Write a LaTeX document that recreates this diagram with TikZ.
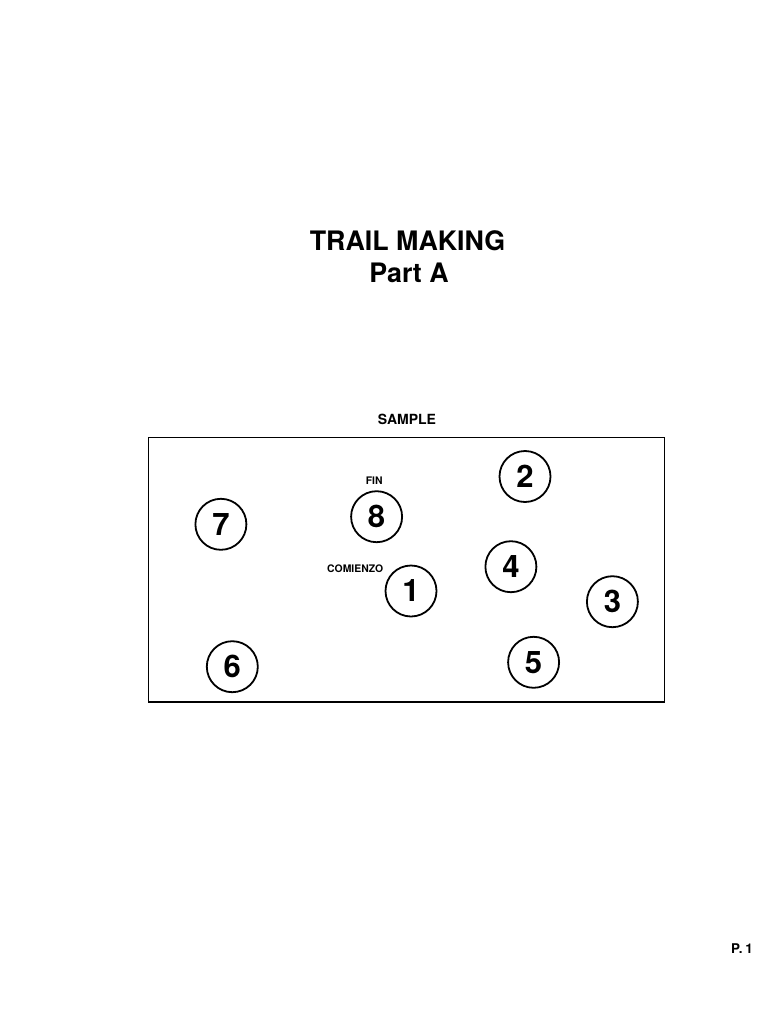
\documentclass[tikz,border=0pt]{standalone}
\usepackage{fontspec}
\setmainfont{TeX Gyre Heros}
\begin{document}
\begin{tikzpicture}[x=1pt,y=-1pt,
  dot/.style={circle,draw,line width=1.8pt,minimum size=51pt,inner sep=0pt,font=\fontsize{31}{31}\selectfont\bfseries},
  lab/.style={font=\fontsize{10.4}{10.4}\selectfont\bfseries,inner sep=0pt},
  title/.style={font=\fontsize{26.8}{27}\selectfont\bfseries,inner sep=0pt}]
\useasboundingbox (0,0) rectangle (768,1024);
\node[title] (t1) at (407.5,241) {TRAIL MAKING};
\node[title] (t2) at (409,272.5) {Part A};
\node[font=\fontsize{14}{14}\selectfont\bfseries,inner sep=0pt] (sample) at (407,419.3) {SAMPLE};
\draw[line width=1.8pt] (148.5,437.5) rectangle (664.5,702);
\node[dot] (n2) at (525,476.5) {2};
\node[dot] (n8) at (376.6,516.7) {8};
\node[dot] (n7) at (220.9,524.3) {7};
\node[dot] (n4) at (510.9,566.7) {4};
\node[dot] (n1) at (411,591) {1};
\node[dot] (n3) at (612.4,601.7) {3};
\node[dot] (n6) at (232.3,666.7) {6};
\node[dot] (n5) at (533.6,662.3) {5};
\node[lab] (fin) at (374.2,481) {FIN};
\node[lab] (com) at (355.2,568.3) {COMIENZO};
\node[font=\fontsize{13.4}{13.4}\selectfont\bfseries,inner sep=0pt] (p1) at (742,948.5) {P.\kern-1pt\ 1};
\end{tikzpicture}
\end{document}
